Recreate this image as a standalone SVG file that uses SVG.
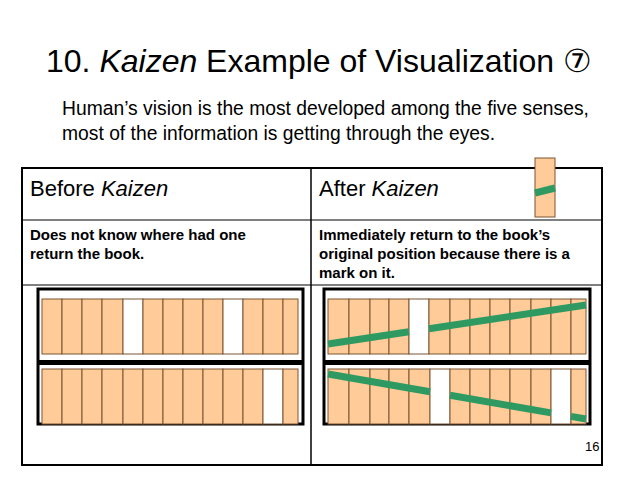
<svg xmlns="http://www.w3.org/2000/svg" width="638" height="478" viewBox="0 0 638 478">
<style>
text{font-family:"Liberation Sans",Arial,sans-serif;fill:#000}
.b{fill:#FFCC99;stroke:#7a5530;stroke-width:1}
.w{fill:#fff;stroke:#7a5530;stroke-width:1}
.f{fill:none;stroke:#000;stroke-width:3}
.g{stroke:#2E9A62;stroke-width:7;fill:none}
.d{font-size:15px;font-weight:bold}
</style>
<rect width="638" height="478" fill="#fff"/>
<text x="46" y="72" font-size="32">10. <tspan font-style="italic">Kaizen</tspan> Example of Visualization ⑦</text>
<text x="62" y="115" font-size="19.3">Human’s vision is the most developed among the five senses,</text>
<text x="62" y="140" font-size="19.3">most of the information is getting through the eyes.</text>
<g id="table" fill="none" stroke="#000">
<rect x="22" y="168" width="580" height="297" stroke-width="2"/>
<line x1="311" y1="168" x2="311" y2="465" stroke-width="1.5"/>
<line x1="22" y1="220" x2="602" y2="220" stroke-width="1"/>
<line x1="22" y1="285" x2="602" y2="285" stroke-width="1"/>
</g>
<text x="30" y="196" font-size="22">Before <tspan font-style="italic">Kaizen</tspan></text>
<text x="319" y="196" font-size="22">After <tspan font-style="italic">Kaizen</tspan></text>
<text class="d" x="30" y="240">Does not know where had one</text>
<text class="d" x="30" y="259">return the book.</text>
<text class="d" x="319" y="240">Immediately return to the book’s</text>
<text class="d" x="319" y="259">original position because there is a</text>
<text class="d" x="319" y="278">mark on it.</text>
<g id="bookmark">
<rect x="535" y="158" width="20" height="59" class="b"/>
<line x1="535" y1="193" x2="555" y2="188" class="g" stroke-width="5"/>
</g>
<g id="shelfBefore">
<rect x="38" y="289" width="265" height="135" class="f"/>
<line x1="38" y1="362.5" x2="303" y2="362.5" stroke="#000" stroke-width="5"/>
<g>
<rect x="42" y="299" width="20" height="55" class="b"/><rect x="62" y="299" width="20" height="55" class="b"/><rect x="82" y="299" width="20" height="55" class="b"/><rect x="102" y="299" width="21" height="55" class="b"/><rect x="123" y="299" width="20" height="55" class="w"/><rect x="143" y="299" width="20" height="55" class="b"/><rect x="163" y="299" width="20" height="55" class="b"/><rect x="183" y="299" width="20" height="55" class="b"/><rect x="203" y="299" width="20" height="55" class="b"/><rect x="223" y="299" width="20" height="55" class="w"/><rect x="243" y="299" width="20" height="55" class="b"/><rect x="263" y="299" width="20" height="55" class="b"/><rect x="283" y="299" width="15" height="55" class="b"/>
</g>
<g>
<rect x="42" y="369" width="20" height="55" class="b"/><rect x="62" y="369" width="20" height="55" class="b"/><rect x="82" y="369" width="20" height="55" class="b"/><rect x="102" y="369" width="21" height="55" class="b"/><rect x="123" y="369" width="20" height="55" class="b"/><rect x="143" y="369" width="20" height="55" class="b"/><rect x="163" y="369" width="20" height="55" class="b"/><rect x="183" y="369" width="20" height="55" class="b"/><rect x="203" y="369" width="20" height="55" class="b"/><rect x="223" y="369" width="20" height="55" class="b"/><rect x="243" y="369" width="20" height="55" class="b"/><rect x="263" y="369" width="20" height="55" class="w"/><rect x="283" y="369" width="15" height="55" class="b"/>
</g>
</g>
<g id="shelfAfter">
<rect x="324" y="289" width="266" height="135" class="f"/>
<line x1="324" y1="362.5" x2="590" y2="362.5" stroke="#000" stroke-width="5"/>
<g>
<rect x="328" y="299" width="21" height="55" class="b"/><rect x="349" y="299" width="21" height="55" class="b"/><rect x="370" y="299" width="19" height="55" class="b"/><rect x="389" y="299" width="20" height="55" class="b"/><rect x="409" y="299" width="20" height="55" class="w"/><rect x="429" y="299" width="21" height="55" class="b"/><rect x="450" y="299" width="20" height="55" class="b"/><rect x="470" y="299" width="20" height="55" class="b"/><rect x="490" y="299" width="20" height="55" class="b"/><rect x="510" y="299" width="21" height="55" class="b"/><rect x="531" y="299" width="20" height="55" class="b"/><rect x="551" y="299" width="20" height="55" class="b"/><rect x="571" y="299" width="15" height="55" class="b"/>
</g>
<g>
<rect x="328" y="369" width="21" height="55" class="b"/><rect x="349" y="369" width="21" height="55" class="b"/><rect x="370" y="369" width="19" height="55" class="b"/><rect x="389" y="369" width="20" height="55" class="b"/><rect x="409" y="369" width="21" height="55" class="b"/><rect x="430" y="369" width="20" height="55" class="w"/><rect x="450" y="369" width="20" height="55" class="b"/><rect x="470" y="369" width="20" height="55" class="b"/><rect x="490" y="369" width="20" height="55" class="b"/><rect x="510" y="369" width="21" height="55" class="b"/><rect x="531" y="369" width="20" height="55" class="b"/><rect x="551" y="369" width="20" height="55" class="w"/><rect x="571" y="369" width="15" height="55" class="b"/>
</g>
<g class="g">
<line x1="328" y1="344" x2="409" y2="331.8"/><line x1="429" y1="328.7" x2="586" y2="305"/>
<line x1="328" y1="374" x2="430" y2="391.8"/><line x1="450" y1="395.3" x2="551" y2="412.9"/><line x1="571" y1="416.4" x2="586" y2="419"/>
</g>
</g>
<text x="585" y="451" font-size="13">16</text>
</svg>
